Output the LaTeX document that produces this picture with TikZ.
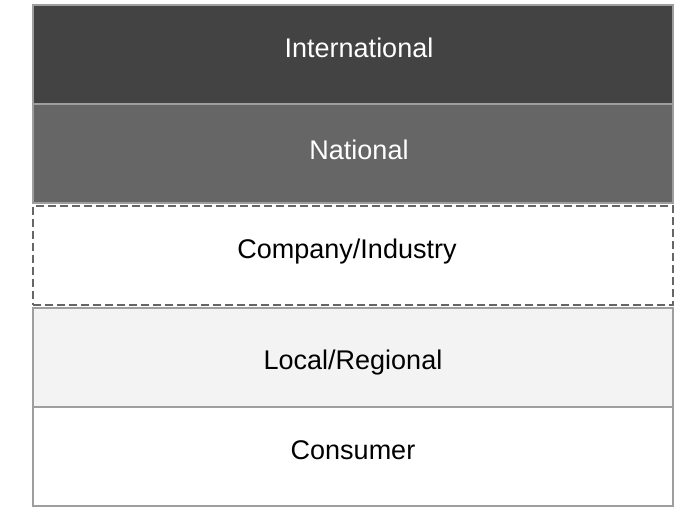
\documentclass[tikz,border=0pt]{standalone}
\usepackage{fontspec}
\setmainfont{Liberation Sans}
\usetikzlibrary{positioning}
\definecolor{DGray}{HTML}{434343}
\definecolor{MGray}{HTML}{666666}
\definecolor{LGray}{HTML}{F3F3F3}
\definecolor{Edge}{HTML}{9E9E9E}
\tikzset{layer/.style={draw=Edge,line width=1.5pt,minimum width=640pt,
  minimum height=99pt,inner sep=0pt,outer sep=0pt},
  lbl/.style={anchor=base,inner sep=0pt,font=\fontsize{27}{32}\selectfont}}
\begin{document}
\begin{tikzpicture}[x=1pt,y=1pt]
\useasboundingbox (0,0) rectangle (697,-525);

\node[layer,fill=DGray] (intl) at (353,-54.5) {};
\node[layer,fill=MGray,below=0pt of intl] (natl) {};
\node[layer,draw=MGray,dashed,dash pattern=on 8pt off 4pt,line width=2pt,
  below=3pt of natl] (comp) {};
\node[layer,fill=LGray,below=3pt of comp] (locl) {};
\node[layer,fill=white,below=0pt of locl] (cons) {};

\node[lbl,text=white] (tintl) at ([xshift=6pt,yshift=-2.5pt]intl.center) {International};
\node[lbl,text=white] (tnatl) at ([xshift=6pt,yshift=-5.5pt]natl.center) {National};
\node[lbl] (tcomp) at ([xshift=-6pt,yshift=-3pt]comp.center) {Company/Industry};
\node[lbl] (tlocl) at ([yshift=-11.5pt]locl.center) {Local/Regional};
\node[lbl] (tcons) at ([yshift=-2.5pt]cons.center) {Consumer};

\end{tikzpicture}
\end{document}
